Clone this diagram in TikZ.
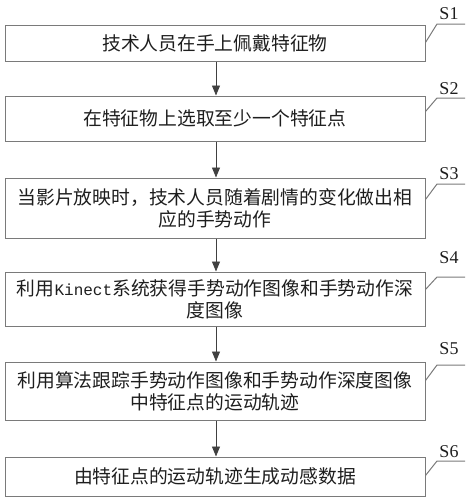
\documentclass[tikz,border=0pt]{standalone}
\usepackage{fontspec}
\setmainfont{Liberation Serif}
\newfontfamily\cjk{Noto Sans CJK SC}
\newfontfamily\monof{Liberation Mono}
\usetikzlibrary{arrows.meta,calc}
\definecolor{boxgray}{HTML}{7A7A7A}
\definecolor{arrgray}{HTML}{404040}
\definecolor{txt}{HTML}{1E1E1E}
\begin{document}
\begin{tikzpicture}[x=1pt,y=-1pt,
  stepbox/.style={draw=boxgray,line width=1pt,rectangle,minimum width=420pt,
    inner sep=0pt,align=center,text=txt,
    font=\cjk\fontsize{18.8}{22}\selectfont},
  flow/.style={draw=arrgray,line width=0.9pt,-{Triangle[width=8pt,length=10pt]}},
  leader/.style={draw=boxgray,line width=1pt},
  slabel/.style={font=\fontsize{18}{18}\selectfont,text=txt,inner sep=0pt}]
\useasboundingbox (0,0) rectangle (474,504);
\node[stepbox,minimum height=36pt] (b1) at (215,43) {技术人员在手上佩戴特征物};
\node[stepbox,minimum height=45pt] (b2) at (215,118.5) {在特征物上选取至少一个特征点};
\node[stepbox,minimum height=60pt] (b3) at (215,208) {当影片放映时，技术人员随着剧情的变化做出相\\应的手势动作};
\node[stepbox,minimum height=54pt] (b4) at (215,299) {利用{\monof\fontsize{16}{22}\selectfont Kinect}系统获得手势动作图像和手势动作深\\度图像};
\node[stepbox,minimum height=58pt] (b5) at (215,391) {利用算法跟踪手势动作图像和手势动作深度图像\\中特征点的运动轨迹};
\node[stepbox,minimum height=39pt] (b6) at (215,476.5) {由特征点的运动轨迹生成动感数据};
% flow arrows
\draw[flow] ([xshift=1pt]b1.south) -- ([xshift=1pt]b2.north);
\draw[flow] ([xshift=1pt]b2.south) -- ([xshift=1pt]b3.north);
\draw[flow] ([xshift=1pt]b3.south) -- ([xshift=1pt]b4.north);
\draw[flow] ([xshift=1pt]b4.south) -- ([xshift=1pt]b5.north);
\draw[flow] ([xshift=1pt]b5.south) -- ([xshift=1pt]b6.north);
% labels
\node[slabel] (s1) at (449,14) {S1};
\node[slabel] (s2) at (449,89) {S2};
\node[slabel] (s3) at (449,174) {S3};
\node[slabel] (s4) at (449,258) {S4};
\node[slabel] (s5) at (449,349) {S5};
\node[slabel] (s6) at (449,452) {S6};
% leader lines
\coordinate (e1) at (465,24);
\coordinate (e2) at (465,98);
\coordinate (e3) at (465,184);
\coordinate (e4) at (465,277);
\coordinate (e5) at (465,365);
\coordinate (e6) at (465,461);
\draw[leader] ([yshift=-18pt]b1.north east) -- (437,24) -- (e1);
\draw[leader] ([yshift=-16pt]b2.north east) -- (437,98) -- (e2);
\draw[leader] ([yshift=-22pt]b3.north east) -- (437,184) -- (e3);
\draw[leader] ([yshift=-18pt]b4.north east) -- (437,277) -- (e4);
\draw[leader] ([yshift=-19pt]b5.north east) -- (437,365) -- (e5);
\draw[leader] ([yshift=-19pt]b6.north east) -- (437,461) -- (e6);
\end{tikzpicture}
\end{document}
